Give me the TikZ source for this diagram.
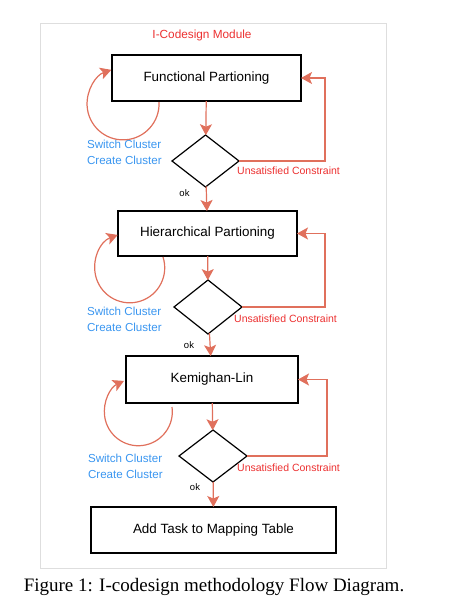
\documentclass[tikz,border=0pt]{standalone}
\usepackage{xcolor}
\usepackage{fontspec}
\setmainfont{Liberation Sans}
\newfontfamily\captionfont{Liberation Serif}
\usepackage{tikz}
\usetikzlibrary{positioning,shapes.geometric,arrows.meta}

\definecolor{loopcol}{RGB}{224,112,92}
\definecolor{warncol}{RGB}{236,48,48}
\definecolor{actcol}{RGB}{58,150,240}
\definecolor{framecol}{RGB}{222,222,222}

\begin{document}
\begin{tikzpicture}[x=1pt, y=1pt]

    % Define styles
    \tikzstyle{stage} = [rectangle, draw, line width=1.2pt, outer sep=0pt, minimum height=46pt, font=\fontsize{13.4}{16}\selectfont]
    \tikzstyle{check} = [diamond, draw, line width=1.2pt, outer sep=0pt, inner sep=0pt, minimum width=67pt, minimum height=52pt]
    \tikzstyle{flow} = [draw=loopcol, line width=1.2pt, -{Stealth[length=11pt, width=12pt, inset=2.5pt]}]
    \tikzstyle{warn} = [text=warncol, anchor=west, inner sep=0pt, font=\fontsize{10.5}{12}\selectfont]
    \tikzstyle{action} = [text=actcol, anchor=east, align=left, inner sep=0pt, font=\fontsize{11.6}{16}\selectfont]
    \tikzstyle{ok} = [inner sep=0pt, font=\fontsize{9.5}{11}\selectfont]

    \useasboundingbox (0,0) rectangle (474,-597);

    % Module frame
    \draw [framecol, line width=1pt] (40,-23) rectangle (386,-568);
    \node [text=warncol, font=\fontsize{11.8}{14}\selectfont] (title) at (202,-35) {I-Codesign Module};

    % Stages and checks
    \node [stage, minimum width=189pt] (fp) at (206.5,-78) {Functional Partioning};
    \node [check, below=34pt of fp, xshift=-1pt] (d1) {};
    \node [stage, minimum width=179pt, minimum height=45pt, below=24pt of d1, xshift=2pt] (hp) {Hierarchical Partioning};
    \node [check, minimum width=68pt, minimum height=54pt, below=24pt of hp, xshift=0.5pt] (d2) {};
    \node [stage, minimum width=172pt, minimum height=47pt, below=22pt of d2, xshift=4pt] (kl) {Kemighan-Lin};
    \node [check, minimum width=68pt, below=27pt of kl, xshift=1pt] (d3) {};
    \node [stage, minimum width=245pt, below=25pt of d3, xshift=0.5pt] (map) {Add Task to Mapping Table};

    % Labels
    \node [warn] (w1) at ([shift={(-2pt,-10pt)}]d1.east) {Unsatisfied Constraint};
    \node [warn] (w2) at ([shift={(-8pt,-12pt)}]d2.east) {Unsatisfied Constraint};
    \node [warn] (w3) at ([shift={(-10pt,-12pt)}]d3.east) {Unsatisfied Constraint};
    \node [action] (a1) at ([shift={(-10pt,9pt)}]d1.west) {Switch Cluster\\Create Cluster};
    \node [action] (a2) at ([shift={(-12pt,-12pt)}]d2.west) {Switch Cluster\\Create Cluster};
    \node [action] (a3) at ([shift={(-16pt,-10pt)}]d3.west) {Switch Cluster\\Create Cluster};
    \node [ok] (ok1) at ([shift={(-21pt,-6pt)}]d1.south) {ok};
    \node [ok] (ok2) at ([shift={(-19pt,-11pt)}]d2.south) {ok};
    \node [ok] (ok3) at ([shift={(-18pt,-5pt)}]d3.south) {ok};

    % Flows
    \draw [flow] (fp) -- (d1);
    \draw [flow] (d1) -- (hp);
    \draw [flow] (hp) -- (d2);
    \draw [flow] (d2) -- (kl);
    \draw [flow] (kl) -- (d3);
    \draw [flow] (d3) -- (map);

    % Unsatisfied constraint loops
    \draw [flow] (d1.east) -| ([xshift=24pt]fp.east) -- (fp.east);
    \draw [flow] (d2.east) -| ([xshift=28pt]hp.east) -- (hp.east);
    \draw [flow] (d3.east) -| ([xshift=29pt]kl.east) -- (kl.east);

    % Switch / create cluster loops
    \draw [flow] ([shift={(47pt,-1pt)}]fp.south west) arc [start angle=3, end angle=-251, radius=36pt];
    \draw [flow] ([shift={(45pt,-1pt)}]hp.south west) arc [start angle=18, end angle=-250, radius=35pt];
    \draw [flow] ([shift={(46pt,-4pt)}]kl.south west) arc [start angle=8, end angle=-245, radius=34pt];

    % Caption
    \node [font=\captionfont\fontsize{19}{22}\selectfont] (caption) at (214,-587) {Figure 1: I-codesign methodology Flow Diagram.};

\end{tikzpicture}
\end{document}
